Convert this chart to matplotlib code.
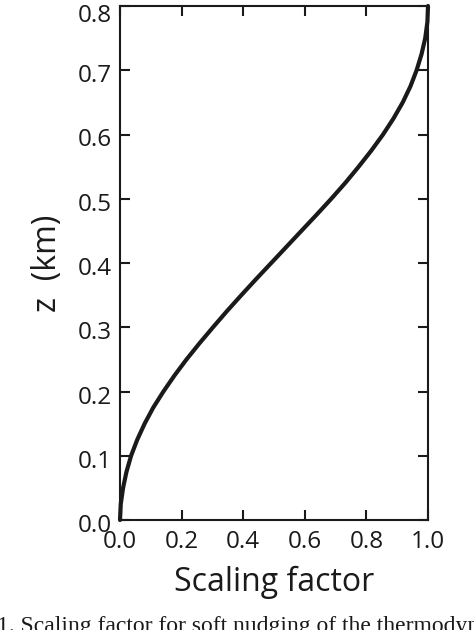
import matplotlib
matplotlib.use("Agg")
import matplotlib.pyplot as plt
from matplotlib.transforms import ScaledTranslation

# Values
z_km = [0.0, 0.025, 0.05, 0.075, 0.1, 0.125, 0.15, 0.175, 0.2, 0.225, 0.25,
        0.275, 0.3, 0.325, 0.35, 0.375, 0.4, 0.425, 0.45, 0.475, 0.5, 0.525,
        0.55, 0.575, 0.6, 0.625, 0.65, 0.675, 0.7, 0.725, 0.75, 0.775, 0.8]
scaling = [0.0, 0.0025, 0.010, 0.021, 0.036, 0.056, 0.080, 0.108, 0.141,
           0.177, 0.216, 0.258, 0.302, 0.347, 0.394, 0.442, 0.491, 0.540,
           0.589, 0.638, 0.686, 0.732, 0.775, 0.816, 0.854, 0.888, 0.918,
           0.943, 0.963, 0.979, 0.991, 0.998, 1.0]
x_ticks = [0.0, 0.2, 0.4, 0.6, 0.8, 1.0]
y_ticks = [0.0, 0.1, 0.2, 0.3, 0.4, 0.5, 0.6, 0.7, 0.8]
x_label = "Scaling factor"
y_label = "z  (km)"
caption = "1. Scaling factor for soft nudging of the thermodynamic variables"

plt.rcParams['font.family'] = ['Open Sans', 'DejaVu Sans']

fig = plt.figure(figsize=(4.74, 6.30), dpi=100)
ax = fig.add_axes([120/474, 1-520/630, (428-120)/474, (520-6)/630])

ax.plot(scaling, z_km, color='#1a1a1a', lw=3.0, solid_capstyle='round',
        solid_joinstyle='round', clip_on=False)

ax.set_xlim(0, 1.0)
ax.set_ylim(0, 0.8)
ax.set_xticks(x_ticks)
ax.set_yticks(y_ticks)
ax.set_xticklabels([f"{v:.1f}" for v in x_ticks])
ax.set_yticklabels([f"{v:.1f}" for v in y_ticks])

for s in ax.spines.values():
    s.set_linewidth(1.5)
    s.set_color('#1a1a1a')

ax.tick_params(direction='in', length=7.5, width=1.5, color='#1a1a1a',
               top=True, right=True, labelsize=17.5, labelcolor='#1a1a1a')
ax.tick_params(axis='y', pad=6)
ax.tick_params(axis='x', pad=7)

# shift y tick labels slightly down, the top one more so it stays inside
ylabs = ax.get_yticklabels()
for i, lab in enumerate(ylabs):
    dy = -7/100 if i == len(ylabs) - 1 else -3/100
    lab.set_transform(lab.get_transform() + ScaledTranslation(0, dy, fig.dpi_scale_trans))

ax.set_xlabel(x_label, fontsize=23, color='#1a1a1a', labelpad=9)
ax.set_ylabel(y_label, fontsize=23, color='#1a1a1a', labelpad=10)

fig.text(-0.006, -2/630, caption, family=['Liberation Serif', 'DejaVu Serif'],
         fontsize=17, color='#1a1a1a', ha='left', va='baseline')

fig.savefig("out.png", dpi=100, facecolor='white')
